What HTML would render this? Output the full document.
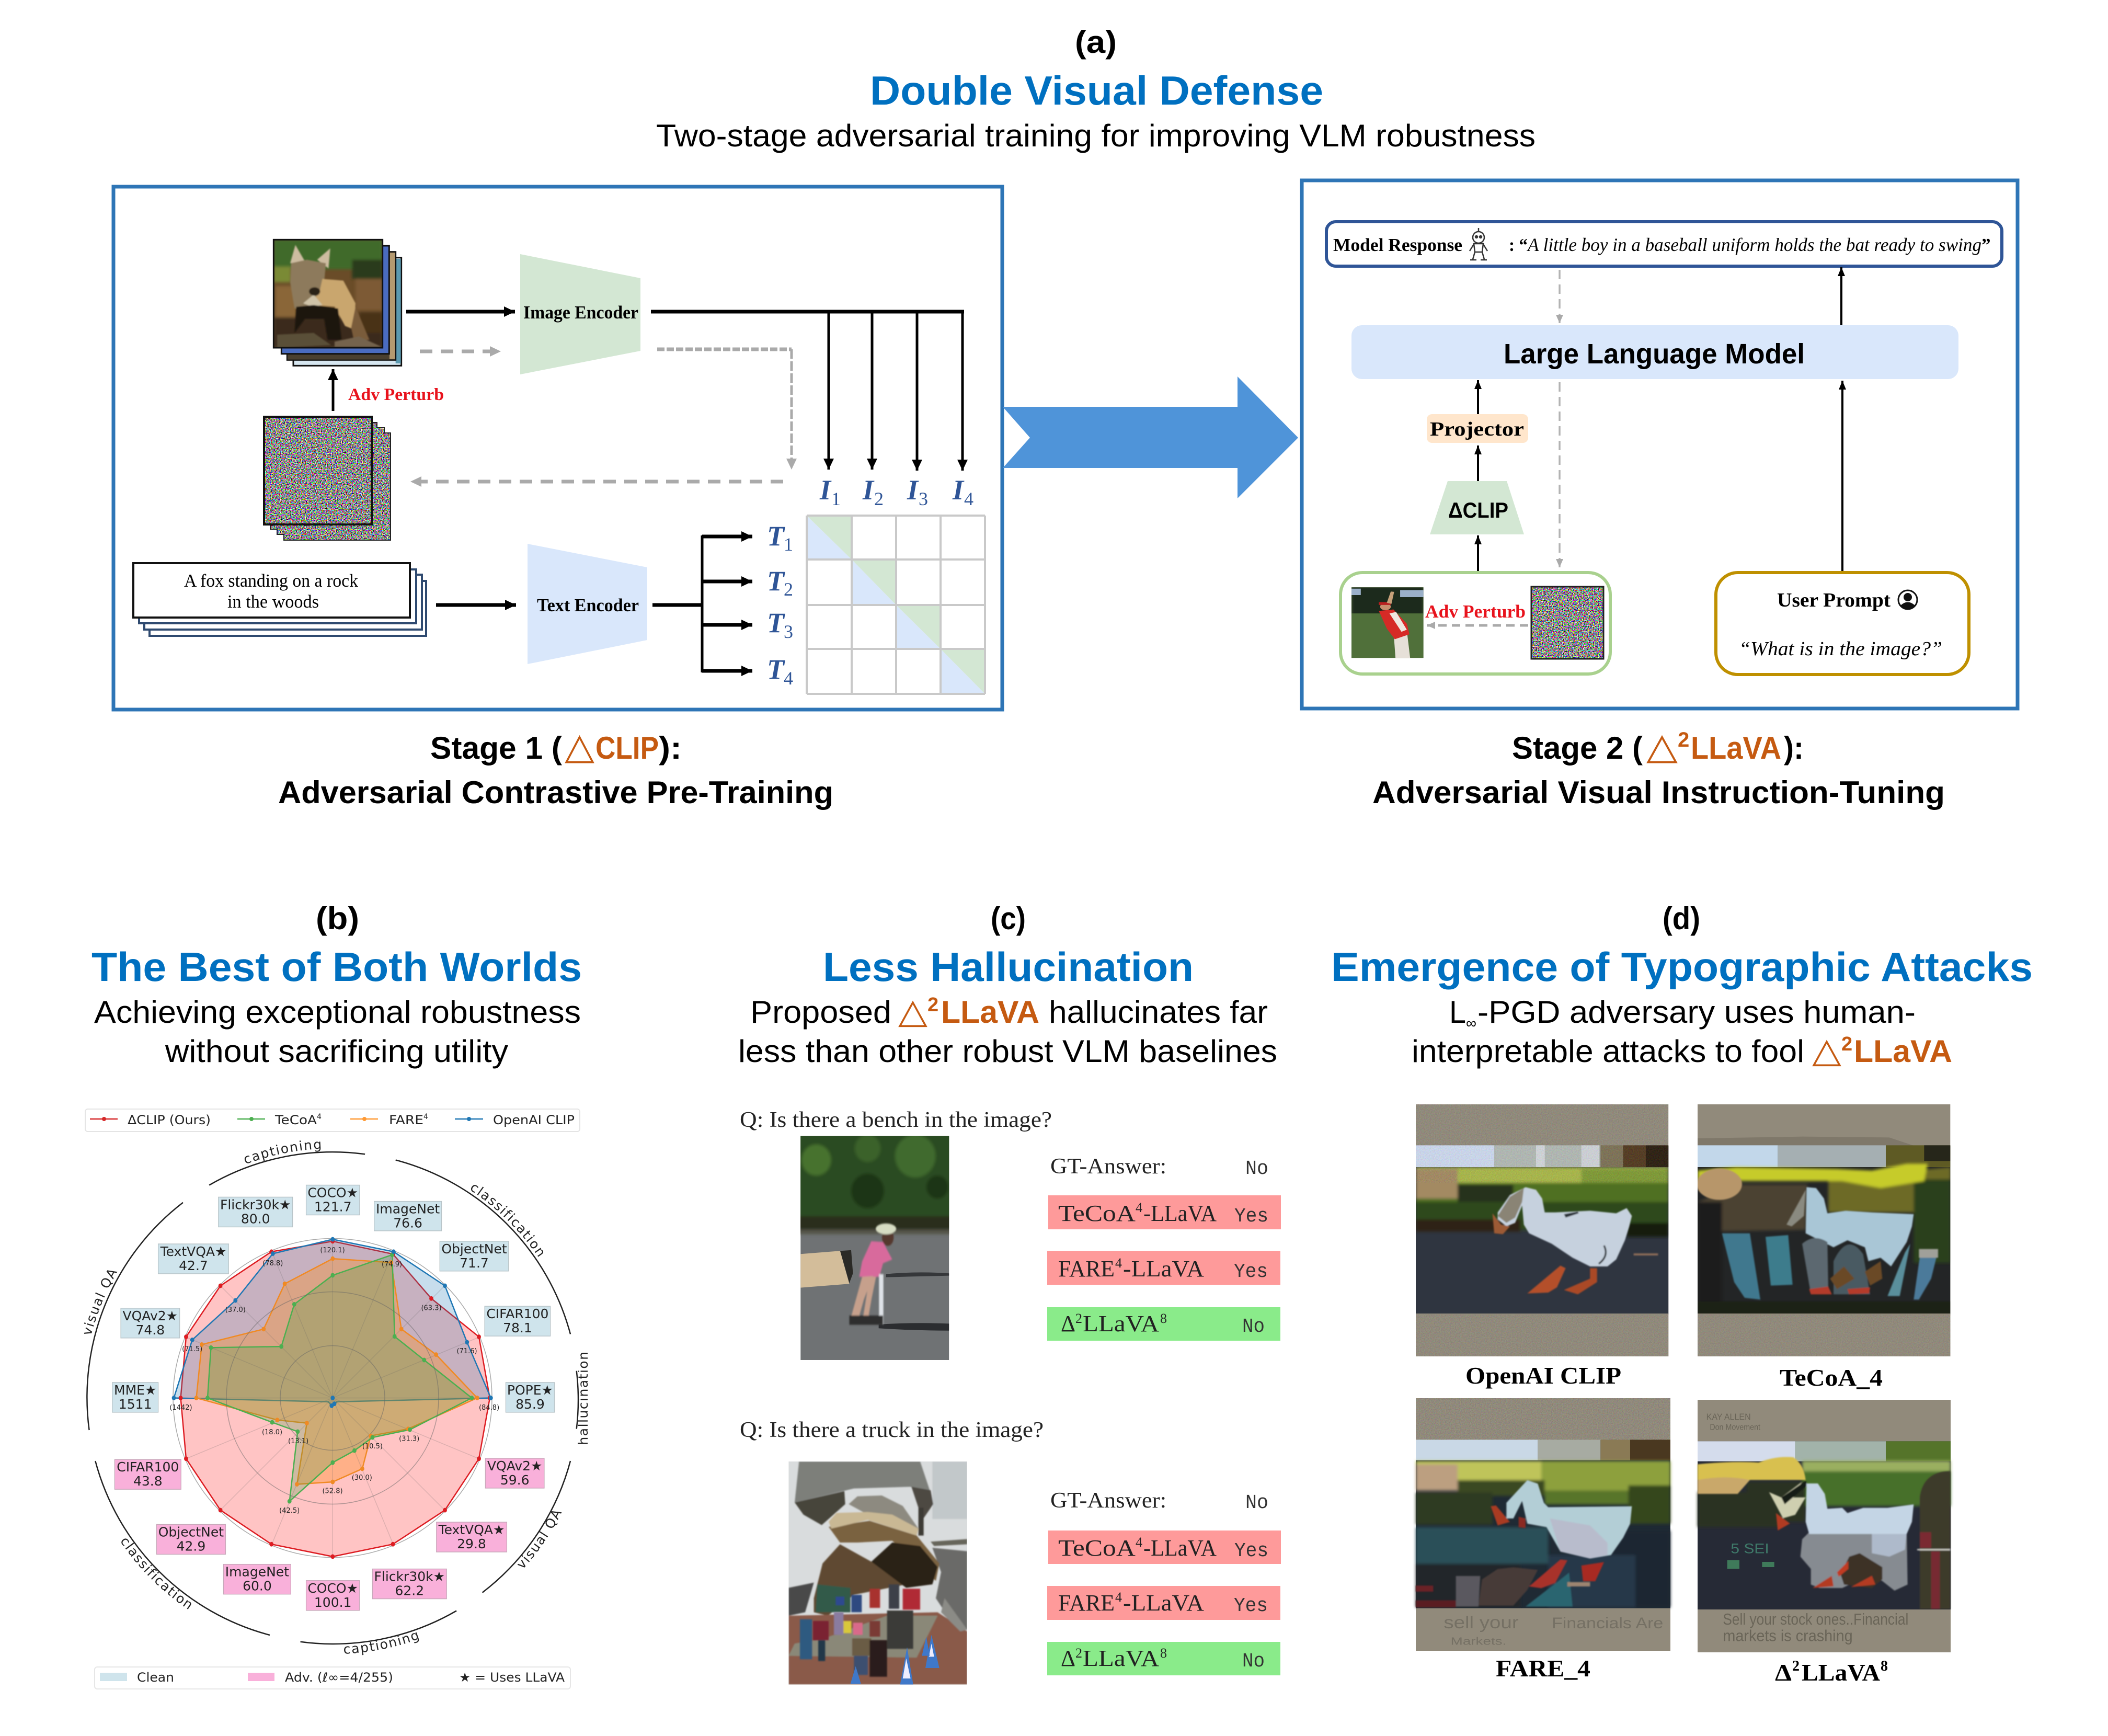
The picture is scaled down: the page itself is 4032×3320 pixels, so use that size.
<!DOCTYPE html>
<html><head><meta charset="utf-8"><title>Double Visual Defense</title>
<style>
html,body{margin:0;padding:0;background:#fff}
svg{display:block}
.s{font-family:"Liberation Sans",sans-serif}
.b{font-family:"Liberation Sans",sans-serif;font-weight:bold}
.r{font-family:"Liberation Serif",serif}
.rb{font-family:"Liberation Serif",serif;font-weight:bold}
.ri{font-family:"Liberation Serif",serif;font-style:italic}
.m{font-family:"Liberation Mono",monospace}
.d{font-family:"DejaVu Sans",sans-serif}
.mi{font-family:"Liberation Serif",serif;font-style:italic;font-weight:bold;fill:#2f5597}
.su{font-family:"Liberation Serif",serif;fill:#2f5597;font-size:36px}
.rd text,.rl{font-family:"DejaVu Sans",sans-serif;fill:#222}
</style></head><body>
<svg xmlns="http://www.w3.org/2000/svg" width="4032" height="3320" viewBox="0 0 4032 3320">
<defs>
<marker id="ab" markerUnits="userSpaceOnUse" markerWidth="24" markerHeight="22" refX="21" refY="10" orient="auto"><path d="M0 0L21 10L0 20z" fill="#000"/></marker>
<marker id="at" markerUnits="userSpaceOnUse" markerWidth="20" markerHeight="18" refX="17" refY="7" orient="auto"><path d="M0 0L17 7L0 14z" fill="#000"/></marker>
<marker id="ag" markerUnits="userSpaceOnUse" markerWidth="24" markerHeight="22" refX="21" refY="10" orient="auto"><path d="M0 0L21 10L0 20z" fill="#aaa"/></marker>
<marker id="ag2" markerUnits="userSpaceOnUse" markerWidth="20" markerHeight="18" refX="16" refY="7" orient="auto"><path d="M0 0L16 7L0 14z" fill="#aaa"/></marker>
<filter id="nz" x="0" y="0" width="100%" height="100%" color-interpolation-filters="sRGB"><feTurbulence type="fractalNoise" baseFrequency="0.42" numOctaves="2" seed="7"/><feColorMatrix type="matrix" values="3.4 0 0 0 -1.15  0 3.4 0 0 -1.15  0 0 3.4 0 -1.15  0 0 0 0 1"/></filter>
<filter id="bl" x="-5%" y="-5%" width="110%" height="110%"><feGaussianBlur stdDeviation="4"/></filter>
<filter id="bl2" x="-5%" y="-5%" width="110%" height="110%"><feGaussianBlur stdDeviation="2"/></filter>
<filter id="b8" x="-10%" y="-10%" width="120%" height="120%"><feGaussianBlur stdDeviation="9"/></filter>
<filter id="b3" x="-10%" y="-10%" width="120%" height="120%"><feGaussianBlur stdDeviation="4"/></filter>
<clipPath id="cfox"><rect x="70" y="55" width="625" height="620"/></clipPath>
<clipPath id="cball"><rect x="537" y="1188" width="108" height="200"/></clipPath>
<clipPath id="ckid"><rect x="187" y="98" width="405" height="579"/></clipPath>
<clipPath id="cpl"><rect x="25" y="15" width="1025" height="1280"/></clipPath>
<clipPath id="cd1"><rect width="1450" height="1446"/></clipPath>
<path id="arcT" d="M159 2673.5A477 477 0 0 1 1113 2673.5"/>
<path id="arcB" d="M146 2673.5A490 490 0 0 0 1126 2673.5"/>
</defs>

<rect width="4032" height="3320" fill="#fff"/>

<!-- Header -->
<text class="b" x="2056" y="101" font-size="60" textLength="80" lengthAdjust="spacingAndGlyphs">(a)</text>
<text class="b" x="1664" y="200" font-size="78" fill="#0070c0" textLength="867" lengthAdjust="spacingAndGlyphs">Double Visual Defense</text>
<text class="s" x="1255" y="280" font-size="60" textLength="1682" lengthAdjust="spacingAndGlyphs">Two-stage adversarial training for improving VLM robustness</text>

<!-- Panel a left -->
<rect x="217" y="357" width="1700" height="1000" fill="#fff" stroke="#2e75b6" stroke-width="7"/>
<!-- fox stack -->
<g transform="translate(500 440) scale(.33333)">
<rect x="183" y="158" width="620" height="620" fill="#d6e6f0" stroke="#111" stroke-width="9"/>
<rect x="770" y="165" width="30" height="600" fill="#5c9ab0"/>
<rect x="148" y="125" width="622" height="620" fill="#c9b08a" stroke="#111" stroke-width="9"/>
<rect x="150" y="680" width="618" height="63" fill="#4a4030"/>
<rect x="735" y="130" width="32" height="610" fill="#b59a70"/>
<rect x="115" y="90" width="618" height="620" fill="#4a6cc0" stroke="#111" stroke-width="9"/>
<g clip-path="url(#cfox)">
<rect x="70" y="55" width="625" height="620" fill="#6a4c28"/>
<g filter="url(#b8)">
<rect x="70" y="55" width="625" height="170" fill="#3f6a2a"/>
<rect x="520" y="170" width="175" height="110" fill="#2a3a1a"/>
<rect x="70" y="210" width="100" height="90" fill="#7a8a34"/>
<rect x="80" y="320" width="120" height="200" fill="#8a6638"/>
<rect x="540" y="280" width="155" height="180" fill="#7d5a34"/>
<rect x="70" y="500" width="625" height="175" fill="#3a2c1e"/>
<rect x="560" y="470" width="135" height="120" fill="#4a3018"/>
</g>
<g filter="url(#b3)">
<polygon points="165,190 195,85 250,180" fill="#cdbca0"/>
<polygon points="320,170 395,105 385,220" fill="#cdbca0"/>
<polygon points="190,450 165,300 170,190 260,170 370,190 360,300 330,375 280,430" fill="#8d7a5c"/>
<polygon points="350,280 470,290 540,420 530,570 480,550 420,440 300,430 250,420 330,370" fill="#c9a66e"/>
<polygon points="240,420 300,370 350,430 290,440" fill="#cfc3a8"/>
<polygon points="190,590 200,440 300,430 440,450 460,630 380,630 360,510 250,510" fill="#1f1610"/>
<polygon points="540,440 620,630 530,630 515,560" fill="#7a5c3a"/>
<ellipse cx="305" cy="352" rx="32" ry="24" fill="#2a2018"/>
<polygon points="90,600 300,590 400,660 90,675" fill="#5a5038"/>
<polygon points="420,640 560,610 690,670 420,670" fill="#75644e"/>
</g>
</g>
<rect x="70" y="55" width="625" height="620" fill="none" stroke="#111" stroke-width="9"/>
</g>
<!-- noise stack -->
<rect x="542" y="827" width="206" height="207" fill="#222"/>
<rect x="529" y="817" width="207" height="206" fill="#222"/>
<rect x="516" y="807" width="206" height="206" fill="#222"/>
<rect x="544" y="829" width="202" height="203" filter="url(#nz)"/>
<rect x="531" y="819" width="203" height="202" filter="url(#nz)"/>
<rect x="518" y="809" width="202" height="202" filter="url(#nz)"/>
<rect x="505" y="797" width="206" height="206" filter="url(#nz)"/>
<rect x="505" y="797" width="206" height="206" fill="none" stroke="#111" stroke-width="4"/>
<!-- text stack -->
<rect x="286" y="1111" width="529" height="105" fill="#fff" stroke="#2f4a70" stroke-width="4"/>
<rect x="276" y="1099" width="531" height="105" fill="#fff" stroke="#2f4a70" stroke-width="4"/>
<rect x="266" y="1089" width="530" height="103" fill="#fff" stroke="#2f4a70" stroke-width="4"/>
<rect x="255" y="1077" width="529" height="104" fill="#fff" stroke="#111" stroke-width="4"/>
<text class="r" x="352" y="1122" font-size="35" textLength="333" lengthAdjust="spacingAndGlyphs">A fox standing on a rock</text>
<text class="r" x="435" y="1162" font-size="35" textLength="175" lengthAdjust="spacingAndGlyphs">in the woods</text>
<!-- encoders -->
<polygon points="995,486 1225,532 1225,671 995,716" fill="#d3e7d3"/>
<text class="rb" x="1001" y="609" font-size="35" textLength="220" lengthAdjust="spacingAndGlyphs">Image Encoder</text>
<polygon points="1009,1040 1238,1085 1238,1224 1009,1270" fill="#d9e7fb"/>
<text class="rb" x="1027" y="1169" font-size="35" textLength="195" lengthAdjust="spacingAndGlyphs">Text Encoder</text>
<!-- black arrows -->
<g stroke="#000" fill="none">
<path d="M777 596H985" stroke-width="7" marker-end="url(#ab)"/>
<path d="M1245 596H1844" stroke-width="7"/>
<path d="M1585 596V898" stroke-width="5" marker-end="url(#ab)"/>
<path d="M1668 596V898" stroke-width="5" marker-end="url(#ab)"/>
<path d="M1754 596V900" stroke-width="5" marker-end="url(#ab)"/>
<path d="M1841 596V900" stroke-width="5" marker-end="url(#ab)"/>
<path d="M637 786V706" stroke-width="5" marker-end="url(#ab)"/>
<path d="M834 1157H987" stroke-width="7" marker-end="url(#ab)"/>
<path d="M1248 1157H1343" stroke-width="7"/>
<path d="M1343 1024V1286" stroke-width="5"/>
<path d="M1343 1026H1439" stroke-width="7" marker-end="url(#ab)"/>
<path d="M1343 1112H1439" stroke-width="7" marker-end="url(#ab)"/>
<path d="M1343 1195H1439" stroke-width="7" marker-end="url(#ab)"/>
<path d="M1343 1283H1439" stroke-width="7" marker-end="url(#ab)"/>
</g>
<g stroke="#aaa" fill="none">
<path d="M803 672H958" stroke-width="7" stroke-dasharray="24 16" marker-end="url(#ag)"/>
<path d="M1257 668H1514" stroke-width="7" stroke-dasharray="14 4"/>
<path d="M1514 668V898" stroke-width="5" stroke-dasharray="18 5" marker-end="url(#ag)"/>
<path d="M1498 921H785" stroke-width="7" stroke-dasharray="24 16" marker-end="url(#ag)"/>
</g>
<text class="rb" x="666" y="765" font-size="33" fill="#e8121c" textLength="183" lengthAdjust="spacingAndGlyphs">Adv Perturb</text>
<!-- I/T labels -->
<g font-size="54">
<text class="mi" x="1568" y="955">I</text><text class="su" x="1590" y="966">1</text>
<text class="mi" x="1650" y="955">I</text><text class="su" x="1672" y="966">2</text>
<text class="mi" x="1735" y="955">I</text><text class="su" x="1757" y="966">3</text>
<text class="mi" x="1822" y="955">I</text><text class="su" x="1844" y="966">4</text>
<text class="mi" x="1467" y="1043">T</text><text class="su" x="1499" y="1053">1</text>
<text class="mi" x="1467" y="1129">T</text><text class="su" x="1499" y="1139">2</text>
<text class="mi" x="1467" y="1209">T</text><text class="su" x="1499" y="1220">3</text>
<text class="mi" x="1467" y="1298">T</text><text class="su" x="1499" y="1309">4</text>
</g>
<!-- grid -->
<g>
<polygon points="1543,986 1629,1070 1543,1070" fill="#d9e7fb"/><polygon points="1543,986 1629,986 1629,1070" fill="#d3e7d3"/>
<polygon points="1629,1070 1714,1157 1629,1157" fill="#d9e7fb"/><polygon points="1629,1070 1714,1070 1714,1157" fill="#d3e7d3"/>
<polygon points="1714,1157 1799,1241 1714,1241" fill="#d9e7fb"/><polygon points="1714,1157 1799,1157 1799,1241" fill="#d3e7d3"/>
<polygon points="1799,1241 1884,1327 1799,1327" fill="#d9e7fb"/><polygon points="1799,1241 1884,1241 1884,1327" fill="#d3e7d3"/>
<path d="M1543 986V1327M1629 986V1327M1714 986V1327M1799 986V1327M1884 986V1327M1543 986H1884M1543 1070H1884M1543 1157H1884M1543 1241H1884M1543 1327H1884" stroke="#c9c9c9" stroke-width="4" fill="none"/>
</g>

<!-- big arrow -->
<polygon points="1918,778 2367,778 2367,720 2483,837 2367,953 2367,895 1918,895 1970,837" fill="#4f94d9"/>

<!-- Panel a right -->
<rect x="2490" y="345" width="1369" height="1010" fill="none" stroke="#2e75b6" stroke-width="7"/>
<g transform="translate(-10 0)">
<rect x="2547" y="424" width="1292" height="85" rx="18" fill="#fff" stroke="#2f5597" stroke-width="6"/>
<text class="rb" x="2560" y="480" font-size="35" textLength="247" lengthAdjust="spacingAndGlyphs">Model Response</text>
<g transform="translate(2838 470)" stroke="#333" stroke-width="2.5" fill="none">
<circle cx="0" cy="-16" r="11"/><path d="M0-34V-27M-9-4H9L7 12H-7ZM-7 12L-11 26M7 12L11 26M-9-3L-17 10M9-3L17 10M-16 27H-4M4 27H16"/><circle cx="-4" cy="-17" r="2" fill="#333"/><circle cx="4" cy="-17" r="2" fill="#333"/>
</g>
<text class="rb" x="2896" y="480" font-size="35" textLength="36" lengthAdjust="spacingAndGlyphs">: “</text>
<text class="ri" x="2932" y="480" font-size="36" textLength="868" lengthAdjust="spacingAndGlyphs">A little boy in a baseball uniform holds the bat ready to swing</text>
<text class="rb" x="3800" y="480" font-size="35">”</text>
<rect x="2595" y="622" width="1161" height="103" rx="20" fill="#d9e7fb"/>
<text class="b" x="2886" y="695" font-size="54" textLength="576" lengthAdjust="spacingAndGlyphs">Large Language Model</text>
<g stroke="#000" stroke-width="4" fill="none">
<path d="M3532 622V511" marker-end="url(#at)"/>
<path d="M3534 1095V728" marker-end="url(#at)"/>
<path d="M2837 793V727" marker-end="url(#at)"/>
<path d="M2837 920V852" marker-end="url(#at)"/>
<path d="M2837 1094V1024" marker-end="url(#at)"/>
</g>
<g stroke="#b3b3b3" stroke-width="3.5" fill="none" stroke-dasharray="18 10">
<path d="M2993 516V618" marker-end="url(#ag2)"/>
<path d="M2993 731V1085" marker-end="url(#ag2)"/>
</g>
<rect x="2739" y="792" width="194" height="55" rx="10" fill="#ffe6cc"/>
<text class="rb" x="2745" y="833" font-size="38" textLength="180" lengthAdjust="spacingAndGlyphs">Projector</text>
<polygon points="2779,920 2892,920 2925,1022 2745,1022" fill="#d3e7d3"/>
<text class="b" x="2780" y="990" font-size="42" textLength="115" lengthAdjust="spacingAndGlyphs">ΔCLIP</text>
<rect x="2574" y="1095" width="516" height="194" rx="42" fill="#fff" stroke="#a9d18e" stroke-width="6"/>
<rect x="3292" y="1095" width="484" height="195" rx="42" fill="#fff" stroke="#bf9000" stroke-width="6"/>
<!-- baseball -->
<g transform="translate(1910 320) scale(1.2755 .676)"><g clip-path="url(#cball)">
<rect x="537" y="1188" width="108" height="200" fill="#4f6b34"/>
<rect x="537" y="1188" width="108" height="78" fill="#1f2a1c" filter="url(#bl2)"/>
<rect x="537" y="1262" width="108" height="126" fill="#50703a"/>
<path d="M610 1196h35v20h-35zM537 1192h14v18h-14z" fill="#9bb0c9"/>
<path d="M600 1310l20 0 5 78-22 0z" fill="#e6e0d8"/>
<path d="M578 1255l22-4 20 40 4 30-22 14-12-30z" fill="#d62a26"/>
<path d="M594 1262l10-4 16 50-8 6z" fill="#efe8e0"/>
<ellipse cx="588" cy="1243" rx="8" ry="10" fill="#c98e6e"/><path d="M578 1238h18v-8h-18z" fill="#b81f1f"/>
<path d="M590 1232l6-32 5 1-4 34z" fill="#c7a07a"/>
</g></g>
<rect x="2939" y="1122" width="138" height="138" filter="url(#nz)"/>
<rect x="2939" y="1122" width="138" height="138" fill="none" stroke="#222" stroke-width="3"/>
<text class="rb" x="2736" y="1181" font-size="35" fill="#e8121c" textLength="192" lengthAdjust="spacingAndGlyphs">Adv Perturb</text>
<path d="M2933 1196H2739" stroke="#aaa" stroke-width="5" stroke-dasharray="16 10" fill="none" marker-end="url(#ag2)"/>
<text class="rb" x="3409" y="1160" font-size="38" textLength="217" lengthAdjust="spacingAndGlyphs">User Prompt</text>
<g transform="translate(3659 1147)"><circle r="18" fill="#fff" stroke="#111" stroke-width="3"/><circle cy="-5" r="8" fill="#111"/><path d="M-14 11q14-13 28 0q-14 12-28 0z" fill="#111"/></g>
<text class="ri" x="3336" y="1253" font-size="38" textLength="389" lengthAdjust="spacingAndGlyphs">“What is in the image?”</text>
</g>

<!-- Stage labels -->
<g class="b" font-size="60">
<text x="823" y="1451" textLength="252" lengthAdjust="spacingAndGlyphs">Stage 1 (</text>
<text x="1080" y="1451" fill="#c55a11" class="d" textLength="57" lengthAdjust="spacingAndGlyphs" font-size="70" font-weight="normal">△</text>
<text x="1139" y="1451" fill="#c55a11" textLength="121" lengthAdjust="spacingAndGlyphs">CLIP</text>
<text x="1260" y="1451" textLength="44" lengthAdjust="spacingAndGlyphs">):</text>
<text x="532" y="1536" textLength="1062" lengthAdjust="spacingAndGlyphs">Adversarial Contrastive Pre-Training</text>
<text x="2892" y="1451" textLength="250" lengthAdjust="spacingAndGlyphs">Stage 2 (</text>
<text x="3149" y="1451" fill="#c55a11" class="d" textLength="60" lengthAdjust="spacingAndGlyphs" font-size="70" font-weight="normal">△</text>
<text x="3209" y="1428" fill="#c55a11" font-size="40">2</text>
<text x="3234" y="1451" fill="#c55a11" textLength="173" lengthAdjust="spacingAndGlyphs">LLaVA</text>
<text x="3412" y="1451" textLength="38" lengthAdjust="spacingAndGlyphs">):</text>
<text x="2625" y="1536" textLength="1095" lengthAdjust="spacingAndGlyphs">Adversarial Visual Instruction-Tuning</text>
<text x="604" y="1777" textLength="83" lengthAdjust="spacingAndGlyphs">(b)</text>
<text x="1895" y="1777" textLength="67" lengthAdjust="spacingAndGlyphs">(c)</text>
<text x="3180" y="1777" textLength="72" lengthAdjust="spacingAndGlyphs">(d)</text>
</g>
<g class="b" font-size="78" fill="#0070c0">
<text x="175" y="1876" textLength="938" lengthAdjust="spacingAndGlyphs">The Best of Both Worlds</text>
<text x="1574" y="1876" textLength="709" lengthAdjust="spacingAndGlyphs">Less Hallucination</text>
<text x="2546" y="1876" textLength="1342" lengthAdjust="spacingAndGlyphs">Emergence of Typographic Attacks</text>
</g>
<g class="s" font-size="60">
<text x="180" y="1956" textLength="931" lengthAdjust="spacingAndGlyphs">Achieving exceptional robustness</text>
<text x="316" y="2031" textLength="656" lengthAdjust="spacingAndGlyphs">without sacrificing utility</text>
<text x="1435" y="1956" textLength="270" lengthAdjust="spacingAndGlyphs">Proposed</text>
<text x="2006" y="1956" textLength="419" lengthAdjust="spacingAndGlyphs">hallucinates far</text>
<text x="1412" y="2031" textLength="1031" lengthAdjust="spacingAndGlyphs">less than other robust VLM baselines</text>
<text x="2772" y="1956" textLength="32" lengthAdjust="spacingAndGlyphs">L</text>
<text x="2804" y="1966" font-size="28">∞</text>
<text x="2826" y="1956" textLength="838" lengthAdjust="spacingAndGlyphs">-PGD adversary uses human-</text>
<text x="2700" y="2031" textLength="751" lengthAdjust="spacingAndGlyphs">interpretable attacks to fool</text>
</g>
<g class="b" fill="#c55a11" font-size="60">
<text class="d" x="1718" y="1956" font-size="66" font-weight="normal" textLength="56" lengthAdjust="spacingAndGlyphs">△</text>
<text x="1774" y="1934" font-size="38">2</text>
<text x="1800" y="1956" textLength="188" lengthAdjust="spacingAndGlyphs">LLaVA</text>
<text class="d" x="3466" y="2031" font-size="66" font-weight="normal" textLength="56" lengthAdjust="spacingAndGlyphs">△</text>
<text x="3522" y="2009" font-size="38">2</text>
<text x="3546" y="2031" textLength="188" lengthAdjust="spacingAndGlyphs">LLaVA</text>
</g>

<!-- Panel b radar -->
<rect x="163" y="2121" width="946" height="43" rx="5" fill="#fff" stroke="#e4e4e4" stroke-width="2"/>
<g stroke-width="2.5" fill="none">
<path d="M172 2140H225" stroke="#d62728"/><path d="M454 2140H507" stroke="#4caf50"/><path d="M670 2140H723" stroke="#ff9933"/><path d="M870 2140H924" stroke="#1f77b4"/>
</g>
<circle cx="199" cy="2140" r="4" fill="#d62728"/><circle cx="481" cy="2140" r="4" fill="#4caf50"/><circle cx="697" cy="2140" r="4" fill="#ff9933"/><circle cx="897" cy="2140" r="4" fill="#1f77b4"/>
<g class="d" font-size="24" fill="#222">
<text x="244" y="2150" textLength="159" lengthAdjust="spacingAndGlyphs">ΔCLIP (Ours)</text>
<text x="526" y="2150" textLength="80" lengthAdjust="spacingAndGlyphs">TeCoA</text><text x="606" y="2140" font-size="14">4</text>
<text x="744" y="2150" textLength="66" lengthAdjust="spacingAndGlyphs">FARE</text><text x="810" y="2140" font-size="14">4</text>
<text x="943" y="2150" textLength="156" lengthAdjust="spacingAndGlyphs">OpenAI CLIP</text>
</g>
<!-- outer arcs -->
<g fill="none" stroke="#222" stroke-width="2.5">
<path d="M400.2 2266.5A470 470 0 0 1 698.1 2207.3"/>
<path d="M756.7 2218.4A470 470 0 0 1 1091 2551.4"/>
<path d="M1102.7 2621.7A470 470 0 0 1 1102.7 2732.7"/>
<path d="M1091 2794A470 470 0 0 1 922.6 3045.7"/>
<path d="M873.1 3080.5A470 470 0 0 1 574.5 3139.7"/>
<path d="M516 3127A470 470 0 0 1 182.3 2794"/>
<path d="M170.6 2735A470 470 0 0 1 350 2299.8"/>
</g>
<g class="d" font-size="25" fill="#222" letter-spacing="2" text-anchor="middle">
<text><textPath href="#arcT" startOffset="43.7%">captioning</textPath></text>
<text><textPath href="#arcT" startOffset="74.8%">classification</textPath></text>
<text><textPath href="#arcT" startOffset="12.5%">visual QA</textPath></text>
<text><textPath href="#arcB" startOffset="56.3%">captioning</textPath></text>
<text><textPath href="#arcB" startOffset="25%">classification</textPath></text>
<text><textPath href="#arcB" startOffset="81%">visual QA</textPath></text>
<text transform="translate(1124 2673.5) rotate(-90)" letter-spacing="1.5">hallucination</text>
</g>
<circle cx="636" cy="2673.5" r="305" fill="#fff" stroke="#aaa" stroke-width="1.5"/>
<g transform="translate(140 2100) scale(.6505 .74)">
<polygon vector-effect="non-scaling-stroke" fill="#ff3c3c" fill-opacity=".3" stroke="#dd1c22" stroke-width="2.5" points="763,370 940,403 1053,518 1193,617 1225,775 1193,932 1093,1065 940,1153 763,1185 583,1153 433,1065 332,932 316,775 332,617 433,485 583,397"/>
<polygon vector-effect="non-scaling-stroke" fill="#1f77b4" fill-opacity=".25" stroke="#1f77b4" stroke-width="2.5" points="763,365 942,397 1093,485 1158,631 1228,775 775,785 770,790 765,795 760,795 755,790 750,785 296,775 350,625 477,523 587,402"/>
<polygon vector-effect="non-scaling-stroke" fill="#ff8c1a" fill-opacity=".35" stroke="#f08a24" stroke-width="2.5" points="763,415 935,425 965,597 1067,663 1188,775 985,855 875,873 850,958 763,992 658,998 687,840 600,832 362,775 378,637 560,597 622,480"/>
<polygon vector-effect="non-scaling-stroke" fill="#3a9a3a" fill-opacity=".25" stroke="#4caf50" stroke-width="2.5" points="763,458 938,405 945,616 1032,677 1172,775 990,857 880,877 827,911 763,942 636,1042 660,862 585,838 395,775 405,645 612,642 650,533"/>
</g>
<g fill="none" stroke="#666" stroke-opacity=".5" stroke-width="1.5">
<circle cx="636" cy="2673.5" r="100"/><circle cx="636" cy="2673.5" r="203"/>
<path stroke-opacity=".22" d="M636 2368.5V2978.5M331 2673.5H941M519 2391.5L753 2955.5M753 2391.5L519 2955.5M420 2457.5L852 2889.5M852 2457.5L420 2889.5M354 2556.5L918 2790.5M918 2556.5L354 2790.5"/>
</g>
<g transform="translate(140 2100) scale(.6505 .74)">
<g fill="#dd1c22"><circle cx="763" cy="370" r="6"/><circle cx="940" cy="403" r="6"/><circle cx="1053" cy="518" r="6"/><circle cx="1193" cy="617" r="6"/><circle cx="1225" cy="775" r="6"/><circle cx="1193" cy="932" r="6"/><circle cx="1093" cy="1065" r="6"/><circle cx="940" cy="1153" r="6"/><circle cx="763" cy="1185" r="6"/><circle cx="583" cy="1153" r="6"/><circle cx="433" cy="1065" r="6"/><circle cx="332" cy="932" r="6"/><circle cx="316" cy="775" r="6"/><circle cx="332" cy="617" r="6"/><circle cx="433" cy="485" r="6"/><circle cx="583" cy="397" r="6"/></g>
<g fill="#f08a24"><circle cx="763" cy="415" r="6"/><circle cx="935" cy="425" r="6"/><circle cx="965" cy="597" r="6"/><circle cx="1067" cy="663" r="6"/><circle cx="1188" cy="775" r="6"/><circle cx="985" cy="855" r="6"/><circle cx="875" cy="873" r="6"/><circle cx="850" cy="958" r="6"/><circle cx="763" cy="992" r="6"/><circle cx="658" cy="998" r="6"/><circle cx="687" cy="840" r="6"/><circle cx="600" cy="832" r="6"/><circle cx="362" cy="775" r="6"/><circle cx="378" cy="637" r="6"/><circle cx="560" cy="597" r="6"/><circle cx="622" cy="480" r="6"/></g>
<g fill="#4caf50"><circle cx="763" cy="458" r="6"/><circle cx="938" cy="405" r="6"/><circle cx="945" cy="616" r="6"/><circle cx="1032" cy="677" r="6"/><circle cx="1172" cy="775" r="6"/><circle cx="990" cy="857" r="6"/><circle cx="880" cy="877" r="6"/><circle cx="827" cy="911" r="6"/><circle cx="763" cy="942" r="6"/><circle cx="636" cy="1042" r="6"/><circle cx="660" cy="862" r="6"/><circle cx="585" cy="838" r="6"/><circle cx="395" cy="775" r="6"/><circle cx="405" cy="645" r="6"/><circle cx="612" cy="642" r="6"/><circle cx="650" cy="533" r="6"/></g>
<g fill="#1f77b4"><circle cx="763" cy="365" r="6"/><circle cx="942" cy="397" r="6"/><circle cx="1093" cy="485" r="6"/><circle cx="1158" cy="631" r="6"/><circle cx="1228" cy="775" r="6"/><circle cx="296" cy="775" r="6"/><circle cx="350" cy="625" r="6"/><circle cx="477" cy="523" r="6"/><circle cx="587" cy="402" r="6"/><circle cx="763" cy="775" r="6"/><circle cx="768" cy="790" r="6"/><circle cx="760" cy="795" r="6"/></g>
<g fill="#cfe4ec" stroke="#b9c5c9" stroke-width="2">
<rect x="685" y="225" width="157" height="77"/><rect x="885" y="267" width="198" height="76"/><rect x="1078" y="370" width="202" height="77"/><rect x="1210" y="538" width="193" height="77"/><rect x="1272" y="735" width="143" height="77"/><rect x="115" y="735" width="135" height="77"/><rect x="140" y="543" width="173" height="77"/><rect x="250" y="377" width="207" height="77"/><rect x="427" y="256" width="218" height="77"/>
</g>
<g fill="#f9b0da" stroke="#c9a9bb" stroke-width="2">
<rect x="1212" y="931" width="173" height="77"/><rect x="1068" y="1096" width="207" height="77"/><rect x="880" y="1217" width="218" height="77"/><rect x="685" y="1247" width="157" height="77"/><rect x="442" y="1205" width="198" height="77"/><rect x="245" y="1102" width="203" height="77"/><rect x="122" y="934" width="195" height="77"/>
</g>
</g>
<g class="rd" font-size="25" text-anchor="middle">
<text x="636.7" y="2289.5">COCO★</text><text x="636.7" y="2316.5">121.7</text>
<text x="780.1" y="2320.6">ImageNet</text><text x="780.1" y="2347.6">76.6</text>
<text x="907" y="2396.8">ObjectNet</text><text x="907" y="2423.8">71.7</text>
<text x="989.9" y="2521.1">CIFAR100</text><text x="989.9" y="2548.1">78.1</text>
<text x="1013.9" y="2666.9">POPE★</text><text x="1013.9" y="2693.9">85.9</text>
<text x="258.7" y="2666.9">MME★</text><text x="258.7" y="2693.9">1511</text>
<text x="287.3" y="2524.8">VQAv2★</text><text x="287.3" y="2551.8">74.8</text>
<text x="370" y="2402">TextVQA★</text><text x="370" y="2429">42.7</text>
<text x="488.7" y="2312.4">Flickr30k★</text><text x="488.7" y="2339.4">80.0</text>
<text x="984.7" y="2811.9">VQAv2★</text><text x="984.7" y="2838.9">59.6</text>
<text x="902" y="2934">TextVQA★</text><text x="902" y="2961">29.8</text>
<text x="783.3" y="3023.6">Flickr30k★</text><text x="783.3" y="3050.6">62.2</text>
<text x="636.7" y="3045.8">COCO★</text><text x="636.7" y="3072.8">100.1</text>
<text x="491.9" y="3014.7">ImageNet</text><text x="491.9" y="3041.7">60.0</text>
<text x="365.4" y="2938.5">ObjectNet</text><text x="365.4" y="2965.5">42.9</text>
<text x="282.8" y="2814.2">CIFAR100</text><text x="282.8" y="2841.2">43.8</text>
</g>
<g class="rd" font-size="13" text-anchor="middle">
<text x="636" y="2395">(120.1)</text><text x="749.5" y="2422">(74.9)</text><text x="825" y="2505.5">(63.3)</text><text x="893" y="2588">(71.6)</text><text x="935.6" y="2696">(84.8)</text><text x="782.7" y="2755.6">(31.3)</text><text x="712.4" y="2770">(10.5)</text><text x="692.3" y="2830">(30.0)</text><text x="636" y="2855.5">(52.8)</text><text x="553.7" y="2893">(42.5)</text><text x="570.6" y="2760">(13.1)</text><text x="520.5" y="2743">(18.0)</text><text x="346" y="2696">(1442)</text><text x="367.7" y="2584">(71.5)</text><text x="450.3" y="2509">(37.0)</text><text x="521.8" y="2420">(78.8)</text>
</g>
<rect x="181" y="3188" width="910" height="42" rx="5" fill="#fff" stroke="#e6e6e6" stroke-width="2"/>
<rect x="191" y="3199" width="52" height="16" fill="#cfe4ec"/><rect x="474" y="3199" width="51" height="16" fill="#f9b0da"/>
<g class="d" font-size="24" fill="#222">
<text x="262" y="3216" textLength="71" lengthAdjust="spacingAndGlyphs">Clean</text>
<text x="545" y="3216" textLength="207" lengthAdjust="spacingAndGlyphs">Adv. (ℓ∞=4/255)</text>
<text x="878" y="3216" textLength="202" lengthAdjust="spacingAndGlyphs">★ = Uses LLaVA</text>
</g>

<!-- Panel c -->
<text class="r" x="1415" y="2155" font-size="42" fill="#222" textLength="597" lengthAdjust="spacingAndGlyphs">Q: Is there a bench in the image?</text>
<text class="r" x="1415" y="2748" font-size="42" fill="#222" textLength="581" lengthAdjust="spacingAndGlyphs">Q: Is there a truck in the image?</text>
<g transform="translate(1400 2100) scale(.7015 .74)">
<g clip-path="url(#ckid)">
<rect x="187" y="98" width="405" height="579" fill="#6f7274"/>
<g filter="url(#b3)">
<rect x="170" y="80" width="440" height="250" fill="#2c4c22"/>
<circle cx="230" cy="160" r="40" fill="#47722f"/><circle cx="500" cy="150" r="55" fill="#3f6a2e"/><circle cx="370" cy="130" r="35" fill="#3a622c"/><circle cx="370" cy="240" r="45" fill="#1c3418"/><circle cx="560" cy="230" r="30" fill="#1c3418"/>
<rect x="170" y="305" width="440" height="38" fill="#2a2d1e"/>
<rect x="170" y="340" width="440" height="12" fill="#55544a"/>
</g>
<polygon points="187,403 295,395 320,480 187,490" fill="#d3bd9a"/>
<path d="M295 395l30-2 5 60-10 25z" fill="#2b2a26"/>
<path d="M420 455q80-8 172-2v6q-90 2-172 4z" fill="#35373a"/>
<path d="M400 585q100-6 192-2v18q-100 0-192-6z" fill="#2b2d30"/>
<g filter="url(#bl2)">
<path d="M380 370l32 2 25 45-25 10-10 35-55 0 8-40z" fill="#d86a9c"/>
<path d="M355 462l30-2-25 60-15 50-20-5zM375 462l18 0-12 55-10 55-14-2z" fill="#c6a08c"/>
<ellipse cx="425" cy="360" rx="16" ry="22" fill="#55392e"/>
<ellipse cx="420" cy="338" rx="28" ry="14" fill="#d6dcc2"/>
<rect x="401" y="455" width="12" height="130" fill="#dfe3e8"/>
<rect x="320" y="562" width="92" height="24" fill="#2f2f2f"/>
</g>
</g>
</g>
<g transform="translate(1500 2790) scale(.33333)"><g clip-path="url(#cpl)">
<rect x="25" y="15" width="1025" height="1280" fill="#d9dcdd"/>
<g filter="url(#b3)">
<rect x="850" y="15" width="200" height="330" fill="#c2c8ca"/>
<polygon points="85,15 780,15 835,180 720,160 400,170 60,250" fill="#7d7f7a"/>
<polygon points="60,250 345,185 350,260 260,340 215,380 110,320" fill="#47443b"/>
<polygon points="730,160 840,180 855,260 800,340 770,280" fill="#4d4a42"/>
<rect x="770" y="280" width="30" height="160" fill="#3c3a34"/>
<polygon points="370,260 420,215 560,210 680,270 770,400 480,320" fill="#8d8a80"/>
<polygon points="850,510 1050,530 1050,980 950,920 870,800 900,650" fill="#6a6a68"/>
<polygon points="840,475 1050,460 1050,490 860,500" fill="#66655a"/>
<polygon points="25,740 170,710 120,880 25,900" fill="#4a4a48"/>
<polygon points="170,800 220,600 320,490 500,590 700,720 400,780 250,900 170,880" fill="#5f4a30"/>
<polygon points="255,390 490,355 760,440 890,600 870,700 620,470 420,480 320,480" fill="#7a6240"/>
<polygon points="255,360 300,310 480,305 620,320 770,400 760,440 480,350 270,400" fill="#c9b894"/>
<polygon points="620,480 780,500 880,620 850,720 700,740 500,590" fill="#2c2218"/>
<polygon points="190,720 380,740 380,880 180,880" fill="#325a48"/>
<polygon points="25,900 880,880 1050,990 1050,1295 25,1295" fill="#8a5a4a"/>
<polygon points="230,1030 590,900 880,900 760,1140 25,1130 60,1060" fill="#8a8878"/>
<polygon points="920,800 1050,980 1010,990 900,880" fill="#8b8b86"/>
</g>
<g filter="url(#bl)">
<rect x="490" y="745" width="60" height="110" fill="#a8302f"/><rect x="680" y="745" width="100" height="120" fill="#b02c34"/><rect x="385" y="780" width="60" height="100" fill="#2f4a80"/><rect x="600" y="720" width="60" height="140" fill="#3e4048"/><rect x="295" y="790" width="50" height="50" fill="#2f4a90"/>
<rect x="590" y="870" width="150" height="220" fill="#3a3a38"/><rect x="285" y="880" width="55" height="130" fill="#8a7ca0"/><rect x="340" y="930" width="45" height="70" fill="#d8c83a"/><rect x="395" y="940" width="55" height="70" fill="#d86a8a"/><rect x="490" y="930" width="60" height="90" fill="#7a3a34"/>
<rect x="90" y="920" width="70" height="230" fill="#2f5a80"/><rect x="165" y="930" width="90" height="110" fill="#7a2032"/><rect x="195" y="1040" width="40" height="120" fill="#24384a"/>
<rect x="390" y="1030" width="110" height="100" fill="#6a5c44"/><rect x="400" y="1130" width="80" height="110" fill="#3e5070"/><rect x="490" y="1040" width="100" height="210" fill="#2c1c1c"/>
</g>
<polygon points="705,1080 665,1295 740,1295" fill="#3f78c9"/><polygon points="700,1145 680,1260 725,1260" fill="#eef"/>
<polygon points="845,1010 810,1200 890,1200" fill="#3f78c9"/><polygon points="845,1060 830,1135 860,1135" fill="#eef"/>
<polygon points="815,1020 790,1130 835,1130" fill="#3f78c9"/>
<polygon points="410,1190 380,1290 440,1290" fill="#3f78c9"/>
</g></g>
<g fill="#fe9a9a"><rect x="2005" y="2286" width="445" height="65"/><rect x="2003" y="2392" width="446" height="65"/><rect x="2005" y="2927" width="445" height="64"/><rect x="2003" y="3033" width="446" height="65"/></g>
<g fill="#8aeb8a"><rect x="2003" y="2500" width="446" height="64"/><rect x="2003" y="3140" width="446" height="64"/></g>
<g class="r" font-size="44" fill="#222">
<text x="2009" y="2244" font-size="42" textLength="222" lengthAdjust="spacingAndGlyphs">GT-Answer:</text>
<text x="2009" y="2883" font-size="42" textLength="222" lengthAdjust="spacingAndGlyphs">GT-Answer:</text>
<text x="2024" y="2335" textLength="148" lengthAdjust="spacingAndGlyphs">TeCoA</text><text x="2172" y="2318" font-size="26">4</text><text x="2187" y="2335" textLength="140" lengthAdjust="spacingAndGlyphs">-LLaVA</text>
<text x="2024" y="2975" textLength="148" lengthAdjust="spacingAndGlyphs">TeCoA</text><text x="2172" y="2958" font-size="26">4</text><text x="2187" y="2975" textLength="140" lengthAdjust="spacingAndGlyphs">-LLaVA</text>
<text x="2024" y="2441" textLength="108" lengthAdjust="spacingAndGlyphs">FARE</text><text x="2133" y="2424" font-size="26">4</text><text x="2148" y="2441" textLength="155" lengthAdjust="spacingAndGlyphs">-LLaVA</text>
<text x="2024" y="3080" textLength="108" lengthAdjust="spacingAndGlyphs">FARE</text><text x="2133" y="3063" font-size="26">4</text><text x="2148" y="3080" textLength="155" lengthAdjust="spacingAndGlyphs">-LLaVA</text>
<text x="2029" y="2546" textLength="28" lengthAdjust="spacingAndGlyphs">Δ</text><text x="2057" y="2530" font-size="26">2</text><text x="2071" y="2546" textLength="146" lengthAdjust="spacingAndGlyphs">LLaVA</text><text x="2219" y="2530" font-size="26">8</text>
<text x="2029" y="3186" textLength="28" lengthAdjust="spacingAndGlyphs">Δ</text><text x="2057" y="3170" font-size="26">2</text><text x="2071" y="3186" textLength="146" lengthAdjust="spacingAndGlyphs">LLaVA</text><text x="2219" y="3170" font-size="26">8</text>
</g>
<g class="m" font-size="38" fill="#333">
<text x="2382" y="2245" textLength="44" lengthAdjust="spacingAndGlyphs">No</text>
<text x="2382" y="2884" textLength="44" lengthAdjust="spacingAndGlyphs">No</text>
<text x="2361" y="2336" textLength="65" lengthAdjust="spacingAndGlyphs">Yes</text>
<text x="2360" y="2442" textLength="65" lengthAdjust="spacingAndGlyphs">Yes</text>
<text x="2376" y="2547" textLength="43" lengthAdjust="spacingAndGlyphs">No</text>
<text x="2361" y="2976" textLength="65" lengthAdjust="spacingAndGlyphs">Yes</text>
<text x="2360" y="3081" textLength="65" lengthAdjust="spacingAndGlyphs">Yes</text>
<text x="2376" y="3187" textLength="43" lengthAdjust="spacingAndGlyphs">No</text>
</g>

<!-- Panel d -->
<!-- duck 1 -->
<g transform="translate(2708 2112) scale(.33333)"><g clip-path="url(#cd1)">
<rect width="1450" height="1446" fill="#918a7b"/>
<rect y="240" width="1450" height="965" fill="#2f3540"/>
<g filter="url(#b8)">
<rect y="360" width="1450" height="110" fill="#a9b74a"/>
<rect x="950" y="370" width="500" height="110" fill="#7f9a35"/>
<rect x="0" y="450" width="1450" height="160" fill="#4f7024"/>
<rect x="240" y="460" width="320" height="120" fill="#26331a"/>
<rect x="0" y="370" width="240" height="170" fill="#a38a62"/>
<rect x="0" y="560" width="1450" height="160" fill="#2f4a1a"/>
<rect x="0" y="660" width="600" height="70" fill="#2f2414"/>
<rect x="1210" y="680" width="240" height="80" fill="#181a10"/>
</g>
<rect y="235" width="450" height="125" fill="#cdd9ee"/>
<rect x="450" y="235" width="610" height="125" fill="#b2b9b4"/>
<rect x="690" y="235" width="50" height="125" fill="#d2d6da"/><rect x="950" y="235" width="100" height="125" fill="#cfd3d8"/>
<rect x="1060" y="235" width="130" height="125" fill="#7d7256"/>
<rect x="1190" y="235" width="130" height="125" fill="#533a20"/><rect x="1320" y="235" width="130" height="125" fill="#2b1e10"/>
<g filter="url(#b3)">
<polygon points="470,620 540,520 630,475 690,490 725,540 740,620 800,620 1000,610 1150,625 1210,595 1240,640 1225,700 1200,780 1150,890 1100,930 1000,930 900,880 780,800 650,740 620,690 610,580 570,680 520,700 470,660" fill="#c6d1de"/>
<polygon points="470,640 540,530 620,480 610,560 570,650 520,680" fill="#8a8474"/>
<polygon points="440,625 490,690 540,700 500,745 450,740" fill="#9c5a35"/>
<polygon points="640,1085 830,925 860,940 810,1050 760,1080" fill="#b4502a"/>
<polygon points="850,1065 1000,1000 1000,940 1040,940 1040,1020 930,1090" fill="#aa4a28"/>
<polygon points="850,630 930,615 935,625 860,650" fill="#2a3238"/>
<path d="M1080 810q30 60-30 105" stroke="#1c2228" stroke-width="10" fill="none"/>
<rect x="1250" y="855" width="140" height="12" fill="#8a6a58"/>
</g>
<rect y="1200" width="1450" height="246" fill="#918a7b"/>
</g></g>
<!-- duck 2 -->
<g transform="translate(3247 2112) scale(.33333)"><g clip-path="url(#cd1)">
<rect width="1452" height="1446" fill="#918a7b"/>
<polygon points="0,195 600,185 1100,190 1250,240 0,240" fill="#7f786a"/>
<rect y="240" width="1452" height="965" fill="#232526"/>
<rect y="235" width="460" height="125" fill="#c2d7ea"/>
<rect x="460" y="235" width="620" height="125" fill="#a5afb2"/>
<rect x="1080" y="235" width="372" height="125" fill="#5e5a24"/>
<rect x="1300" y="235" width="152" height="90" fill="#26261a"/>
<g filter="url(#b8)">
<polygon points="750,430 1250,380 1452,360 1452,440 1240,620 750,620" fill="#6d6a25"/>
<rect x="1240" y="430" width="212" height="480" fill="#2a401d"/>
<polygon points="0,380 220,360 800,370 1000,380 1200,340 1320,340 1300,440 1050,480 830,440 0,440" fill="#c6cb2a"/>
<polygon points="250,460 630,460 620,720 0,730 0,560" fill="#4b4332"/>
<rect x="0" y="560" width="140" height="640" fill="#1e1d1a"/>
</g>
<g filter="url(#b3)">
<ellipse cx="125" cy="458" rx="130" ry="90" fill="#b7966a"/>
<polygon points="510,690 620,490 610,640 540,700" fill="#8a8a80"/>
<polygon points="625,475 680,480 725,540 745,625 850,610 1000,620 1240,630 1230,700 1200,790 1110,930 1050,880 980,900 960,820 860,780 780,820 740,800 620,740" fill="#a9c6d6"/>
<polygon points="140,740 300,740 360,1120 270,1110 210,1020" fill="#41788e"/>
<polygon points="390,760 520,750 545,1035 420,1040" fill="#3c7c8c"/>
<path d="M600 800q70-60 145-10l5 270-105 0z" fill="#5b6870"/>
<path d="M780 1090L780 900Q860 730 950 860L990 1090z" fill="#4a5a62"/>
<polygon points="1090,1100 1190,850 1220,800 1160,1100" fill="#5a8f9c"/>
<polygon points="1240,1120 1280,840 1380,840 1340,1000 1270,1120" fill="#4c7a9a"/>
<polygon points="760,1000 840,930 900,1000 800,1060" fill="#6a4a28"/>
<polygon points="960,960 1050,900 1060,1000 990,1040" fill="#6a4a28"/>
<polygon points="640,1060 750,1045 770,1090 650,1090" fill="#b43a2a"/>
<polygon points="860,1060 990,1050 985,1085 870,1090" fill="#b43a2a"/>
<rect x="0" y="1130" width="1452" height="75" fill="#1e2018"/>
<rect x="1270" y="830" width="110" height="50" fill="#a0a09a"/>
</g>
<rect y="1200" width="1452" height="246" fill="#918a7b"/>
</g></g>
<!-- duck 3 -->
<g transform="translate(2708 2674) scale(.33333)">
<rect width="1461" height="1449" fill="#918a7b"/>
<rect y="240" width="1461" height="965" fill="#1f2a34"/>
<rect y="238" width="700" height="118" fill="#c9d8e6"/>
<rect x="700" y="238" width="360" height="118" fill="#a7aba2"/>
<rect x="1060" y="238" width="170" height="118" fill="#8a7a55"/>
<rect x="1230" y="238" width="231" height="118" fill="#4a3820"/>
<g filter="url(#b8)">
<rect y="360" width="740" height="140" fill="#bfc45a"/>
<rect x="720" y="360" width="741" height="170" fill="#8da03d"/>
<rect x="0" y="380" width="240" height="150" fill="#bc9f80"/>
<rect x="240" y="470" width="500" height="90" fill="#3a4a22"/>
<rect x="0" y="540" width="440" height="185" fill="#2e3a20"/>
<rect x="740" y="530" width="480" height="80" fill="#58752a"/>
<rect x="1220" y="500" width="241" height="220" fill="#36461c"/>
<rect x="0" y="740" width="760" height="210" fill="#2a5058"/>
<rect x="0" y="950" width="600" height="250" fill="#20282c"/>
<rect x="1120" y="760" width="341" height="440" fill="#1b2630"/>
<rect x="760" y="900" width="500" height="300" fill="#25384a"/>
</g>
<g filter="url(#b3)">
<polygon points="520,600 640,470 700,490 735,600 760,625 1240,620 1230,720 1190,800 1120,900 1000,920 830,880 750,740 640,720 610,590 560,690 520,690" fill="#b3ced6"/>
<polygon points="770,690 1000,730 1100,830 1100,900 1000,920 830,880" fill="#b8bccc"/>
<polygon points="430,620 460,615 540,710 470,730" fill="#a83a20"/>
<polygon points="590,680 630,690 630,745 590,740" fill="#8a2a20"/>
<polygon points="650,1080 830,925 870,930 800,1060 720,1090" fill="#a8302a"/>
<polygon points="950,960 1080,940 1030,1050 960,1050" fill="#a82a20"/>
<polygon points="360,1190 380,1040 470,980 560,970 700,985 640,1100 560,1190" fill="#473a38"/>
<polygon points="230,1020 370,1020 360,1195 230,1195" fill="#5a585e"/>
<polygon points="630,1195 830,1040 880,1000 900,1195" fill="#2a6570"/>
<rect x="0" y="1075" width="100" height="35" fill="#6a2025"/><rect x="0" y="1160" width="230" height="40" fill="#5a1e24"/>
<rect x="870" y="1055" width="130" height="25" fill="#9c8470"/>
</g>
<rect y="1205" width="1461" height="244" fill="#918a7b"/>
<g class="s" fill="#757064">
<text x="160" y="1320" font-size="100" textLength="430" lengthAdjust="spacingAndGlyphs">sell your</text>
<text x="780" y="1320" font-size="90" textLength="640" lengthAdjust="spacingAndGlyphs">Financials Are</text>
<text x="200" y="1415" font-size="62" textLength="320" lengthAdjust="spacingAndGlyphs">Markets.</text>
</g>
</g>
<!-- duck 4 -->
<g transform="translate(3247 2677) scale(.33333)">
<rect width="1452" height="1449" fill="#918a7b"/>
<rect y="238" width="1452" height="965" fill="#262a36"/>
<rect y="238" width="560" height="115" fill="#d4dcec"/>
<rect x="560" y="238" width="520" height="115" fill="#a2b3aa"/>
<rect x="1080" y="238" width="372" height="115" fill="#55742a"/>
<g filter="url(#b8)">
<rect x="600" y="350" width="852" height="70" fill="#9aaf60"/>
<rect x="600" y="410" width="852" height="200" fill="#47702a"/>
<rect x="0" y="530" width="470" height="200" fill="#2a3020"/>
<rect x="280" y="470" width="340" height="230" fill="#2c3320"/>
</g>
<g filter="url(#b3)">
<path d="M1275 1200V560q20-150 175-150V1200z" fill="#3d3a2c"/>
<rect x="1340" y="870" width="50" height="330" fill="#772a30"/>
<rect x="1275" y="760" width="65" height="90" fill="#7a2a30"/>
<rect x="1260" y="856" width="190" height="8" fill="#d0d0c8"/>
<path d="M0 370q200-20 350-10 100-40 200-30 60 40 70 130H0z" fill="#d8c050"/>
<path d="M0 460q160-30 300 0l-70 80H0z" fill="#c9a86a"/>
<polygon points="410,530 490,680 560,660 620,560 540,560 600,470 480,560" fill="#cfcfb0"/>
<polygon points="480,560 620,465 630,490 500,600" fill="#181c14"/>
<polygon points="450,650 530,710 460,750" fill="#b03a20"/>
<polygon points="640,760 1200,760 1205,1060 1130,1095 1060,1040 1000,1000 830,1080 700,1080 650,1060 650,970 590,900 600,800" fill="#868b91"/>
<polygon points="1000,760 1200,760 1190,860 1100,900 1000,880" fill="#aebacb"/>
<polygon points="625,480 690,480 730,540 745,625 830,620 860,650 950,620 1090,620 1240,600 1230,700 1200,770 640,770 620,700" fill="#c4d5e5"/>
<polygon points="820,1000 870,900 930,880 1060,960 1060,1030 1000,1080 840,1060" fill="#3d3128"/>
<polygon points="660,1080 770,1010 780,1070" fill="#b33a20"/>
<polygon points="800,990 865,925 865,970 810,1015" fill="#c03a20"/>
<polygon points="880,1075 1000,1010 1020,1060" fill="#b33a20"/>
</g>
<rect y="1203" width="1452" height="246" fill="#918a7b"/>
<g class="s" fill="#6a6558">
<text x="50" y="116" font-size="52" textLength="255" lengthAdjust="spacingAndGlyphs">KAY ALLEN</text>
<text x="70" y="172" font-size="46" textLength="290" lengthAdjust="spacingAndGlyphs">Don Movement</text>
<text x="145" y="1290" font-size="92" textLength="1065" lengthAdjust="spacingAndGlyphs">Sell your stock ones..Financial</text>
<text x="145" y="1385" font-size="92" textLength="745" lengthAdjust="spacingAndGlyphs">markets is crashing</text>
</g>
<text class="s" x="190" y="880" font-size="80" fill="#3f7a6a" textLength="220" lengthAdjust="spacingAndGlyphs">5 SEI</text>
<rect x="170" y="920" width="70" height="50" fill="#3f7a5a"/><rect x="370" y="930" width="70" height="30" fill="#3f7a5a"/>
</g>
<rect x="2708" y="2112" width="483" height="150" filter="url(#nz)" opacity=".06"/>
<rect x="2708" y="2514" width="483" height="80" filter="url(#nz)" opacity=".06"/>
<rect x="3247" y="2514" width="484" height="80" filter="url(#nz)" opacity=".05"/>
<rect x="2708" y="2674" width="487" height="80" filter="url(#nz)" opacity=".07"/>
<g class="rb" font-size="46" fill="#000">
<text x="2803" y="2646" textLength="298" lengthAdjust="spacingAndGlyphs">OpenAI CLIP</text>
<text x="3404" y="2650" textLength="197" lengthAdjust="spacingAndGlyphs">TeCoA_4</text>
<text x="2861" y="3206" textLength="181" lengthAdjust="spacingAndGlyphs">FARE_4</text>
<text x="3395" y="3214" textLength="32" lengthAdjust="spacingAndGlyphs">Δ</text><text x="3428" y="3195" font-size="28">2</text>
<text x="3446" y="3214" textLength="150" lengthAdjust="spacingAndGlyphs">LLaVA</text><text x="3597" y="3195" font-size="28">8</text>
</g>
</svg>
</body></html>
